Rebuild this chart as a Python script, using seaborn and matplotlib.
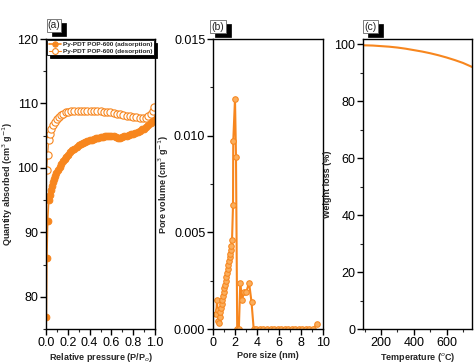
import numpy as np
import pandas as pd
import seaborn as sns
import matplotlib
matplotlib.use("Agg")
import matplotlib.pyplot as plt
from matplotlib.patches import Rectangle
from matplotlib.ticker import MultipleLocator

# ---------------- data ----------------
ads_p = [0.003, 0.008, 0.015, 0.025, 0.037, 0.045, 0.055, 0.065, 0.075, 0.085, 0.095, 0.11,
         0.125, 0.14, 0.155, 0.17, 0.185, 0.2, 0.22, 0.24, 0.26, 0.28, 0.30, 0.32, 0.34, 0.36,
         0.38, 0.40, 0.42, 0.44, 0.46, 0.48, 0.50, 0.52, 0.54, 0.56, 0.58, 0.60, 0.62, 0.64,
         0.66, 0.68, 0.70, 0.72, 0.74, 0.76, 0.78, 0.80, 0.82, 0.84, 0.86, 0.88, 0.90, 0.92,
         0.94, 0.96, 0.97, 0.98, 0.99]
ads_q = [76.8, 86.0, 91.8, 95.0, 95.8, 96.5, 97.2, 97.8, 98.3, 98.8, 99.2, 99.7, 100.2, 100.6,
         101.0, 101.4, 101.7, 102.0, 102.4, 102.7, 103.0, 103.3, 103.5, 103.7, 103.9, 104.0,
         104.2, 104.3, 104.4, 104.5, 104.6, 104.7, 104.8, 104.8, 104.9, 105.0, 105.0, 105.0,
         104.9, 104.8, 104.7, 104.7, 104.8, 104.9, 105.0, 105.1, 105.2, 105.3, 105.4, 105.6,
         105.8, 106.0, 106.1, 106.3, 106.6, 106.9, 107.3, 107.7, 108.2]

des_p = [0.005, 0.015, 0.025, 0.035, 0.05, 0.065, 0.08, 0.10, 0.12, 0.14, 0.16, 0.18, 0.20,
         0.23, 0.26, 0.29, 0.32, 0.35, 0.38, 0.41, 0.44, 0.47, 0.50, 0.53, 0.56, 0.59, 0.62,
         0.65, 0.68, 0.71, 0.74, 0.77, 0.80, 0.83, 0.86, 0.89, 0.92, 0.94, 0.96, 0.98, 0.995]
des_q = [99.7, 102.0, 104.3, 105.2, 106.0, 106.6, 107.1, 107.6, 107.9, 108.2, 108.4, 108.6,
         108.7, 108.8, 108.9, 108.9, 108.9, 108.9, 108.9, 108.8, 108.8, 108.8, 108.8, 108.7,
         108.7, 108.6, 108.5, 108.4, 108.3, 108.2, 108.1, 108.0, 107.9, 107.9, 107.8, 107.8,
         107.8, 108.0, 108.4, 108.9, 109.5]

pore_size = [0.30, 0.36, 0.42, 0.48, 0.54, 0.60, 0.66, 0.72, 0.78, 0.84, 0.90, 0.96, 1.02,
             1.08, 1.14, 1.20, 1.26, 1.32, 1.38, 1.44, 1.50, 1.56, 1.62, 1.68, 1.73, 1.82,
             1.84, 2.00, 2.09, 2.20, 2.35, 2.48, 2.65, 2.80, 3.02, 3.28, 3.50, 3.70, 3.95,
             4.27, 4.59, 4.91, 5.23, 5.55, 5.87, 6.19, 6.51, 6.83, 7.15, 7.47, 7.79, 8.11,
             8.43, 8.75, 9.07, 9.45]
pore_vol = [0.0008, 0.0015, 0.0010, 0.0004, 0.0003, 0.0006, 0.0009, 0.0011, 0.0013, 0.0015,
            0.0017, 0.0019, 0.0021, 0.0023, 0.0025, 0.0027, 0.0029, 0.0031, 0.0033, 0.0035,
            0.0037, 0.0039, 0.0041, 0.0043, 0.0046, 0.0064, 0.0097, 0.0119, 0.0089, 0.0000,
            0.0000, 0.0024, 0.0015, 0.0019, 0.0019, 0.0024, 0.0014, 0.0000, 0.0000, 0.0000,
            0.0000, 0.0000, 0.0000, 0.0000, 0.0000, 0.0000, 0.0000, 0.0000, 0.0000, 0.0000,
            0.0000, 0.0000, 0.0000, 0.0000, 0.0000, 0.00025]

temp = [90, 150, 200, 250, 300, 350, 400, 450, 500, 550, 600, 650, 700, 755]
weight = [99.6, 99.5, 99.3, 99.1, 98.8, 98.4, 97.9, 97.4, 96.8, 96.1, 95.3, 94.4, 93.4, 92.0]

ads_label = "Py-PDT POP-600 (adsorption)"
des_label = "Py-PDT POP-600 (desorption)"

# ---------------- style ----------------
sns.set_style("ticks")
plt.rcParams["font.family"] = ["Liberation Sans", "DejaVu Sans"]
plt.rcParams["axes.linewidth"] = 1.0
plt.rcParams["xtick.direction"] = "out"
plt.rcParams["ytick.direction"] = "out"

ORANGE = "#F7861E"
W, H = 474, 363
fig = plt.figure(figsize=(W / 100, H / 100), dpi=100)


def px_axes(left, right, top, bottom):
    return fig.add_axes([left / W, 1 - bottom / H, (right - left) / W, (bottom - top) / H])


axa = px_axes(46, 155, 39, 329)
axb = px_axes(213, 323, 39, 329)
axc = px_axes(363, 472, 39, 329)

# (a) isotherm
df_ads = pd.DataFrame({"p": ads_p, "q": ads_q})
df_des = pd.DataFrame({"p": des_p, "q": des_q})
sns.lineplot(data=df_ads, x="p", y="q", ax=axa, color=ORANGE, lw=1.2, marker="o",
             markersize=4.8, markeredgecolor=ORANGE, markerfacecolor=ORANGE,
             label=ads_label, sort=False, estimator=None)
sns.lineplot(data=df_des, x="p", y="q", ax=axa, color=ORANGE, lw=0.8, marker="o",
             markersize=5.2, markeredgecolor=ORANGE, markerfacecolor="white",
             markeredgewidth=0.8, label=des_label, sort=False, estimator=None)
axa.set_xlim(0, 1.0)
axa.set_ylim(75, 120)
axa.xaxis.set_major_locator(MultipleLocator(0.2))
axa.xaxis.set_minor_locator(MultipleLocator(0.1))
axa.yaxis.set_major_locator(MultipleLocator(10))
axa.yaxis.set_minor_locator(MultipleLocator(5))
axa.xaxis.set_major_formatter(matplotlib.ticker.FormatStrFormatter("%.1f"))
axa.set_xlabel("Relative pressure (P/P$_o$)", fontsize=6.5, fontweight="bold", labelpad=2)
axa.set_ylabel("Quantity absorbed (cm$^3$ g$^{-1}$)", fontsize=6.5, fontweight="bold", labelpad=2)
leg = axa.legend(loc="upper left", bbox_to_anchor=(0.0, 1.0),
                 prop={"weight": "bold", "size": 4.6}, frameon=True, fancybox=False,
                 shadow={"color": "black", "alpha": 1.0, "ox": 2, "oy": -2},
                 handlelength=2.0, handletextpad=0.3, borderpad=0.25, labelspacing=0.2,
                 borderaxespad=0.15, markerscale=0.8)
leg.get_frame().set_edgecolor("black")
leg.get_frame().set_linewidth(0.6)
leg.get_frame().set_alpha(1.0)

# (b) pore size distribution
df_pore = pd.DataFrame({"d": pore_size, "v": pore_vol})
sns.lineplot(data=df_pore, x="d", y="v", ax=axb, color=ORANGE, lw=1.5, marker="o",
             markersize=4, markeredgecolor=ORANGE, markerfacecolor="#FBAE5C",
             sort=False, estimator=None)
axb.set_xlim(0, 10)
axb.set_ylim(0, 0.015)
axb.xaxis.set_major_locator(MultipleLocator(2))
axb.xaxis.set_minor_locator(MultipleLocator(1))
axb.yaxis.set_major_locator(MultipleLocator(0.005))
axb.yaxis.set_minor_locator(MultipleLocator(0.0025))
axb.yaxis.set_major_formatter(matplotlib.ticker.FormatStrFormatter("%.3f"))
axb.set_xlabel("Pore size (nm)", fontsize=6.5, fontweight="bold", labelpad=2)
axb.set_ylabel("Pore volume (cm$^3$ g$^{-1}$)", fontsize=6.5, fontweight="bold", labelpad=2)

# (c) TGA
df_tga = pd.DataFrame({"t": temp, "w": weight})
sns.lineplot(data=df_tga, x="t", y="w", ax=axc, color=ORANGE, lw=1.5)
axc.set_xlim(90, 755)
axc.set_ylim(0, 101.8)
axc.xaxis.set_major_locator(MultipleLocator(200))
axc.xaxis.set_minor_locator(MultipleLocator(100))
axc.yaxis.set_major_locator(MultipleLocator(20))
axc.yaxis.set_minor_locator(MultipleLocator(10))
axc.set_xlabel("Temperature ($^o$C)", fontsize=6.5, fontweight="bold", labelpad=2)
axc.set_ylabel("Weight loss (%)", fontsize=6.5, fontweight="bold", labelpad=2)

for ax in (axa, axb, axc):
    for s in ax.spines.values():
        s.set_visible(True)
        s.set_color("black")
    ax.tick_params(which="major", length=4, width=1.0, labelsize=9, pad=1.5, colors="black")
    ax.tick_params(which="minor", length=2, width=0.8)


# panel labels with shadow
def panel_label(x0, y0, w, h, s):
    fig.add_artist(Rectangle(((x0 + 5) / W, 1 - (y0 + h + 4) / H), w / W, h / H,
                             transform=fig.transFigure, facecolor="black", edgecolor="black",
                             lw=0.5, zorder=5))
    fig.add_artist(Rectangle((x0 / W, 1 - (y0 + h) / H), w / W, h / H,
                             transform=fig.transFigure, facecolor="white", edgecolor="#666666",
                             lw=0.6, zorder=6))
    fig.text((x0 + w / 2) / W, 1 - (y0 + h / 2) / H, s, ha="center", va="center",
             fontsize=7.5, zorder=7)


panel_label(47, 19, 14, 13, "(a)")
panel_label(210, 20, 16, 13, "(b)")
panel_label(363, 20, 15, 13, "(c)")

fig.savefig("out.png", dpi=100)
